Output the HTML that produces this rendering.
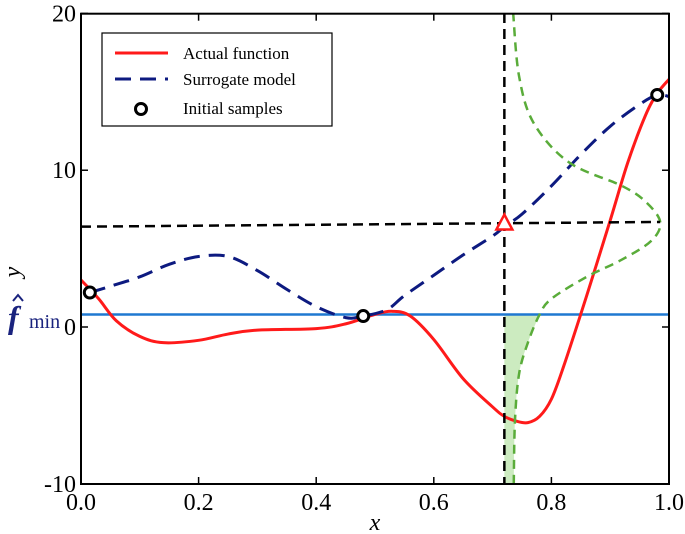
<!DOCTYPE html>
<html><head><meta charset="utf-8"><style>
html,body{margin:0;padding:0;background:#fff;}
svg{display:block;font-family:"Liberation Serif",serif;}
</style></head><body>
<svg id="chart" width="685" height="534" viewBox="0 0 685 534" xmlns="http://www.w3.org/2000/svg">
<defs><clipPath id="clip"><rect x="81" y="13.7" width="588" height="470.3"/></clipPath></defs>
<g id="plot" clip-path="url(#clip)"></g>
<rect x="81" y="13.7" width="588" height="470.3" fill="none" stroke="#000" stroke-width="2"/>
<g id="axes"></g>
<text x="375" y="530" font-size="24" font-style="italic" text-anchor="middle">x</text>
<text x="20" y="272" font-size="24" font-style="italic" text-anchor="middle" transform="rotate(-90 20 272)">y</text>
<g fill="#1a237e">
<text x="8" y="328" font-size="32" font-style="italic" font-weight="bold">f</text>
<polyline points="13,301 18,295 23,301" fill="none" stroke="#1a237e" stroke-width="2"/>
<text x="29" y="328" font-size="20">min</text>
</g>
<g>
<rect x="102" y="33" width="230" height="93" fill="#fff" stroke="#000" stroke-width="1.2"/>
<line x1="115" y1="53" x2="168" y2="53" stroke="#ff1a1a" stroke-width="3"/>
<text x="183" y="59" font-size="17">Actual function</text>
<line x1="115" y1="79" x2="168" y2="79" stroke="#0d1a80" stroke-width="3" stroke-dasharray="16,9"/>
<text x="183" y="85" font-size="17">Surrogate model</text>
<circle cx="141" cy="109" r="5.5" fill="#fff" stroke="#000" stroke-width="3"/>
<text x="183" y="114" font-size="17">Initial samples</text>
</g>
</svg>
<script>
const actualX=[0,0.03,0.06,0.1,0.14,0.2,0.25,0.3,0.4,0.45,0.5,0.53,0.56,0.6,0.65,0.7,0.72,0.74,0.76,0.78,0.8,0.82,0.86,0.9,0.93,0.96,0.98,1.0];
const actualY=[3,1.8,0.4,-0.6,-1,-0.85,-0.45,-0.2,-0.1,0.2,0.8,1.0,0.7,-0.8,-3.3,-5.1,-5.7,-6.0,-6.1,-5.7,-4.6,-2.6,2,6.8,10.5,13.5,14.9,15.8];
const surX=[0.015,0.05,0.1,0.15,0.2,0.25,0.3,0.35,0.4,0.45,0.48,0.52,0.55,0.6,0.65,0.7,0.72,0.75,0.8,0.85,0.9,0.95,0.98,1.0];
const surY=[2.2,2.6,3.2,4.0,4.5,4.5,3.6,2.4,1.3,0.6,0.7,1.1,2.0,3.3,4.6,5.8,6.4,7.2,9.0,11.0,12.8,14.2,14.8,14.7];
const pdfY=[-10,-6,-3,-1,0.8,1.8,3.2,4.3,5.5,6.7,8,9,10.5,13,16,20];
const pdfX=[0.736,0.738,0.745,0.76,0.78,0.80,0.86,0.92,0.97,0.985,0.96,0.92,0.83,0.77,0.745,0.735];
const sampleX=[0.015,0.48,0.98];
const sampleY=[2.2,0.7,14.8];
const fmin=0.8;
const xNext=0.72;
const yNextLeft=6.4, yNextRight=6.7, yNext=6.6;
const xTicks=[0,0.2,0.4,0.6,0.8,1.0];
const xTickLabels=["0.0","0.2","0.4","0.6","0.8","1.0"];
const yTicks=[-10,0,10,20];
const yTickLabels=["-10","0","10","20"];

const X=v=>81+v*588;
const Y=v=>327-v*15.677;
const NS="http://www.w3.org/2000/svg";
function mk(tag,attrs,parent){const e=document.createElementNS(NS,tag);for(const k in attrs)e.setAttribute(k,attrs[k]);parent.appendChild(e);return e;}
function smooth(pts){let d=`M${pts[0][0]},${pts[0][1]}`;for(let i=0;i<pts.length-1;i++){const p0=pts[i-1]||pts[i],p1=pts[i],p2=pts[i+1],p3=pts[i+2]||p2;d+=` C${p1[0]+(p2[0]-p0[0])/6},${p1[1]+(p2[1]-p0[1])/6} ${p2[0]-(p3[0]-p1[0])/6},${p2[1]-(p3[1]-p1[1])/6} ${p2[0]},${p2[1]}`;}return d;}
const plot=document.getElementById('plot');
const axes=document.getElementById('axes');

const sh=[];pdfY.forEach((y,i)=>{if(y<=fmin)sh.push([X(pdfX[i]),Y(y)]);});
let shd=smooth(sh)+` L${X(xNext)},${Y(fmin)} L${X(xNext)},${Y(-10)} Z`;
let s=mk('path',{d:shd,fill:'#bfe6b0',opacity:0.8},plot);



let fl=mk('line',{x1:81,x2:669,y1:Y(fmin),y2:Y(fmin),stroke:'#1f78d1','stroke-width':2.5},plot);



let a=mk('path',{d:smooth(actualX.map((x,i)=>[X(x),Y(actualY[i])])),fill:'none',stroke:'#ff1a1a','stroke-width':3},plot);



let sp=mk('path',{d:smooth(surX.map((x,i)=>[X(x),Y(surY[i])])),fill:'none',stroke:'#0d1a80','stroke-width':3,'stroke-dasharray':'16,9'},plot);



let g=mk('path',{d:smooth(pdfX.map((x,i)=>[X(x),Y(pdfY[i])])),fill:'none',stroke:'#5aac3a','stroke-width':2.5,'stroke-dasharray':'9,6'},plot);



let vl=mk('line',{x1:X(xNext),x2:X(xNext),y1:13,y2:484,stroke:'#000','stroke-width':2.5,'stroke-dasharray':'10,6'},plot);


let hl=mk('line',{x1:81,x2:X(0.985),y1:Y(yNextLeft),y2:Y(yNextRight),stroke:'#000','stroke-width':2.5,'stroke-dasharray':'10,6'},plot);



const tx=X(xNext),ty=Y(yNext);
let tri=mk('polygon',{points:`${tx},${ty-9} ${tx-8},${ty+6} ${tx+8},${ty+6}`,fill:'#fff',stroke:'#ff1a1a','stroke-width':2.5},plot);



sampleX.forEach((x,i)=>{
 const c=mk('circle',{cx:X(x),cy:Y(sampleY[i]),r:5.5,fill:'#fff',stroke:'#000','stroke-width':3},plot);
 
 
});

xTicks.forEach((v,i)=>{
 mk('line',{x1:X(v),x2:X(v),y1:484,y2:477,stroke:'#000','stroke-width':1.5},axes);
 mk('line',{x1:X(v),x2:X(v),y1:13.7,y2:20.7,stroke:'#000','stroke-width':1.5},axes);
 const t=mk('text',{x:X(v),y:510,'font-size':24,'text-anchor':'middle'},axes);
 t.textContent=xTickLabels[i];
 
 
});
yTicks.forEach((v,i)=>{
 mk('line',{x1:81,x2:88,y1:Y(v),y2:Y(v),stroke:'#000','stroke-width':1.5},axes);
 mk('line',{x1:669,x2:662,y1:Y(v),y2:Y(v),stroke:'#000','stroke-width':1.5},axes);
 const t=mk('text',{x:76,y:Y(v)+8,'font-size':24,'text-anchor':'end'},axes);
 t.textContent=yTickLabels[i];
 
 
});
</script>
</body></html>
